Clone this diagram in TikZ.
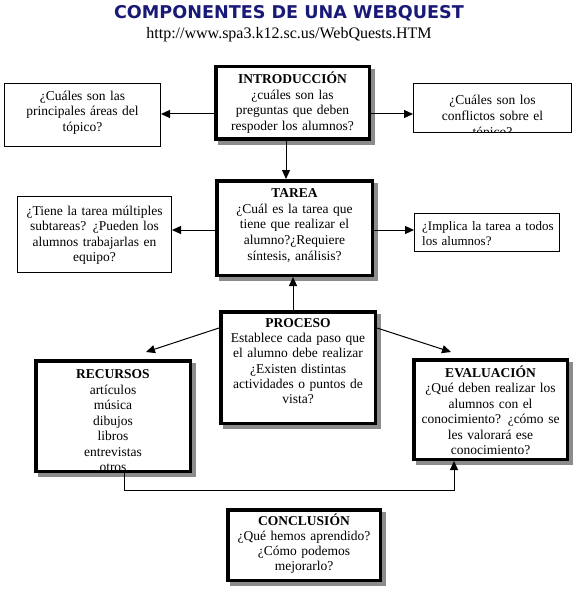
\documentclass[tikz,border=0pt]{standalone}
\usepackage{fontspec}
\setmainfont{Liberation Serif}
\newfontfamily\titlefont{DejaVu Sans}
\usetikzlibrary{arrows.meta,backgrounds}
\definecolor{navy}{RGB}{25,25,120}
\definecolor{shade}{RGB}{140,140,140}
\newcommand{\bodyfont}{\fontsize{13.5}{15.6}\selectfont}
\begin{document}
\begin{tikzpicture}[x=1pt,y=-1pt,
  tbox/.style={draw, fill=white, line width=3.5pt, inner sep=0pt},
  sbox/.style={draw, fill=white, line width=1pt, inner sep=0pt},
  txt/.style={font=\bodyfont, align=center, text width=152pt, inner sep=0pt, anchor=base},
  arr/.style={line width=1pt, -{Triangle[length=9pt,width=8pt]}},
  shadowfill/.style={fill=shade}]
\begin{pgfonlayer}{background}
\fill[white] (0,0) rectangle (578,596);
\end{pgfonlayer}
\useasboundingbox (0,0) rectangle (578,596);

% title
\node[font=\titlefont\bfseries\fontsize{17.6}{20}\selectfont, text=navy, inner sep=0pt] (title) at (289,13) {COMPONENTES DE UNA WEBQUEST};
\node[font=\fontsize{16}{18}\selectfont, inner sep=0pt] (url) at (289,35) {http://www.spa3.k12.sc.us/WebQuests.HTM};

% boxes
\node[tbox, minimum width=153.5pt, minimum height=72.5pt] (intro) at (292.5,103) {};
\node[tbox, minimum width=155.5pt, minimum height=94.5pt] (tarea) at (294.5,228) {};
\node[tbox, minimum width=154.5pt, minimum height=111.5pt] (proceso) at (298,367.5) {};
\node[tbox, minimum width=154.5pt, minimum height=110.5pt] (recursos) at (113,416) {};
\node[tbox, minimum width=153.5pt, minimum height=99.5pt] (eval) at (490.5,409.5) {};
\node[tbox, minimum width=152.5pt, minimum height=70.5pt] (concl) at (304,545) {};
\node[sbox, minimum width=156pt, minimum height=63pt] (L1) at (82.5,115) {};
\node[sbox, minimum width=158pt, minimum height=49pt] (R1) at (492.5,108) {};
\node[sbox, minimum width=154pt, minimum height=76pt] (L2) at (94.5,234.5) {};
\node[sbox, minimum width=145pt, minimum height=38pt] (R2) at (487,232.5) {};

% shadows of the thick boxes
\begin{pgfonlayer}{background}
\foreach \n in {intro,tarea,proceso,recursos,eval,concl}
  \fill[shadowfill] ([shift={(4pt,-4pt)}]\n.south west) rectangle ([shift={(4pt,-4pt)}]\n.north east);
\end{pgfonlayer}

% texts
\node[txt, font=\fontsize{13.5}{15.7}\selectfont] (introT) at (292.5,83.5) {\textbf{INTRODUCCIÓN}\\¿cuáles son las\\preguntas que deben\\respoder los alumnos?};
\node[txt, font=\fontsize{13.5}{15.5}\selectfont] (L1T) at (82.5,100.5) {¿Cuáles son las\\principales áreas del\\tópico?};
\begin{scope}
\clip ([yshift=1pt]R1.south west) rectangle (R1.north east);
\node[txt, font=\fontsize{13.5}{16}\selectfont] (R1T) at (492.5,104.5) {¿Cuáles son los\\conflictos sobre el\\tópico?};
\end{scope}
\node[txt, font=\fontsize{13.5}{15.7}\selectfont] (tareaT) at (294.5,197.5) {\textbf{TAREA}\\¿Cuál es la tarea que\\tiene que realizar el\\alumno?¿Requiere\\síntesis, análisis?};
\node[txt] (L2T) at (94.5,215) {¿Tiene la tarea múltiples\\subtareas? ¿Pueden los\\alumnos trabajarlas en\\equipo?};
\node[font=\fontsize{13}{15.4}\selectfont, align=left, text width=150pt, inner sep=0pt, anchor=base west] (R2T) at (422,230) {¿Implica la tarea a todos\\los alumnos?};
\node[txt, font=\fontsize{13.5}{15.2}\selectfont] (procesoT) at (298,327.5) {\textbf{PROCESO}\\Establece cada paso que\\el alumno debe realizar\\¿Existen distintas\\actividades o puntos de\\vista?};
\begin{scope}
\clip ([yshift=3.5pt]recursos.south west) rectangle (recursos.north east);
\node[txt, font=\fontsize{13.5}{15.5}\selectfont] (recursosT) at (113,378.5) {\textbf{RECURSOS}\\artículos\\música\\dibujos\\libros\\entrevistas\\otros};
\end{scope}
\node[txt, font=\fontsize{13.5}{15.4}\selectfont] (evalT) at (490.5,377.5) {\textbf{EVALUACIÓN}\\¿Qué deben realizar los\\alumnos con el\\conocimiento? ¿cómo se\\les valorará ese\\conocimiento?};
\node[txt, font=\fontsize{13.5}{15}\selectfont] (conclT) at (304,525) {\textbf{CONCLUSIÓN}\\¿Qué hemos aprendido?\\¿Cómo podemos\\mejorarlo?};

% helper coordinates
\coordinate (a1) at (0,114);
\coordinate (a2) at (286,0);
\coordinate (a3) at (0,230);
\coordinate (a4) at (293,0);
\coordinate (a5) at (0,328);
\coordinate (pr1) at (146,352);
\coordinate (pr2) at (451,352);
\coordinate (a6) at (124.5,0);
\coordinate (a7) at (0,490);
\coordinate (a8) at (454,0);

% connectors
\draw[arr] (intro.west |- a1) -- (L1.east |- a1);
\draw[arr] (intro.east |- a1) -- (R1.west |- a1);
\draw[arr] (intro.south -| a2) -- (tarea.north -| a2);
\draw[arr] (tarea.west |- a3) -- (L2.east |- a3);
\draw[arr] (tarea.east |- a3) -- (R2.west |- a3);
\draw[arr] (proceso.north -| a4) -- (tarea.south -| a4);
\draw[arr] (proceso.west |- a5) -- (pr1);
\draw[arr] (proceso.east |- a5) -- (pr2);
\draw[arr] (recursos.south -| a6) -- (a6 |- a7) -- (a8 |- a7) -- (eval.south -| a8);
\end{tikzpicture}
\end{document}
